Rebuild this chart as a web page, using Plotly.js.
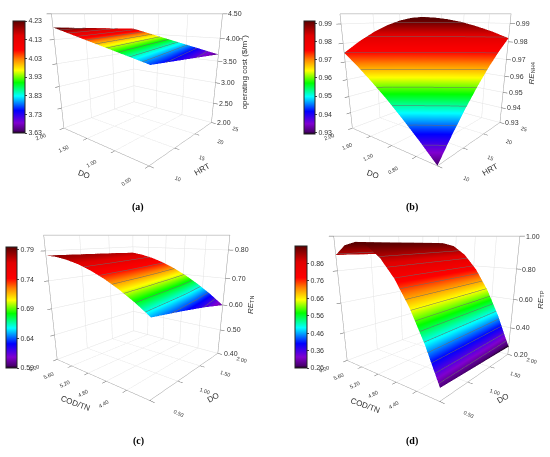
<!DOCTYPE html>
<html><head><meta charset="utf-8">
<script src="https://cdn.plot.ly/plotly-3.0.1.min.js"></script>
<style>html,body{margin:0;padding:0;background:#fff}#c{width:550px;height:457px}#log{position:absolute;left:200px;top:200px;font:10px sans-serif;color:#c00}</style>
</head><body><div id="c"></div><div id="log"></div><script>
// Panel (a): operating cost vs DO (rows) and HRT (cols)
const hrtA=[10,15,20,25];
const doA=[0.5,1.0,1.5,2.0];
const costA=[
 [3.770,3.730,3.690,3.650],
 [3.927,3.887,3.847,3.807],
 [4.083,4.043,4.003,3.963],
 [4.240,4.200,4.160,4.120]];
// Panel (b): RE_NH4 vs DO (rows) and HRT (cols)
const hrtB=[10,12.5,15,17.5,20,22.5,25];
const doB=[0.5,0.75,1.0,1.25,1.5,1.75,2.0];
const reNH4=[
 [0.9300,0.9412,0.9513,0.9605,0.9687,0.9758,0.9820],
 [0.9390,0.9493,0.9585,0.9667,0.9739,0.9801,0.9854],
 [0.9474,0.9567,0.9650,0.9723,0.9786,0.9838,0.9881],
 [0.9553,0.9636,0.9709,0.9773,0.9826,0.9869,0.9903],
 [0.9624,0.9698,0.9762,0.9816,0.9860,0.9894,0.9918],
 [0.9690,0.9755,0.9809,0.9854,0.9888,0.9913,0.9927],
 [0.9750,0.9805,0.9850,0.9885,0.9910,0.9925,0.9930]];
// Panels (c),(d): vs COD/TN (rows) and DO (cols)
const codC=[4.0,4.25,4.5,4.75,5.0,5.25,5.5,5.75,6.0];
const doC=[0.5,1.0,1.5,2.0];
const reTN=[
 [0.649,0.635,0.619,0.599],
 [0.681,0.668,0.654,0.636],
 [0.7085,0.697,0.6845,0.6685],
 [0.732,0.722,0.711,0.697],
 [0.751,0.7426,0.733,0.721],
 [0.766,0.759,0.751,0.741],
 [0.7765,0.771,0.7645,0.7565],
 [0.783,0.7788,0.774,0.768],
 [0.785,0.782,0.779,0.775]];
const reTP=[
 [0.279,0.272,0.266,0.259],
 [0.490,0.483,0.477,0.470],
 [0.663,0.656,0.650,0.643],
 [0.797,0.790,0.784,0.777],
 [0.893,0.886,0.880,0.873],
 [0.951,0.944,0.938,0.931],
 [0.970,0.963,0.957,0.950],
 [0.951,0.944,0.938,0.931],
 [0.893,0.886,0.880,0.873]];
// tick labels
const zTicksA=[2.0,2.5,3.0,3.5,4.0,4.5];
const zTicksB=[0.93,0.94,0.95,0.96,0.97,0.98,0.99];
const zTicksC=[0.4,0.5,0.6,0.7,0.8];
const zTicksD=[0.2,0.4,0.6,0.8,1.0];
const cbTicksA=[3.63,3.73,3.83,3.93,4.03,4.13,4.23];
const cbTicksB=[0.93,0.94,0.95,0.96,0.97,0.98,0.99];
const cbTicksC=[0.59,0.64,0.69,0.74,0.79];
const cbTicksD=[0.26,0.36,0.46,0.56,0.66,0.76,0.86];

const cs=[[0,'#1a001a'],[0.02,'#4a0070'],[0.09,'#8000d0'],[0.2,'#0000ff'],[0.33,'#00ffff'],
 [0.45,'#00ff00'],[0.56,'#ffff00'],[0.66,'#ff8000'],[0.74,'#ff0000'],[0.87,'#e00000'],[1,'#5a0000']];
const light={ambient:1,diffuse:0.08,specular:0,roughness:1,fresnel:0};
function surf(x,y,z,ca,lo,hi,step){
 return {type:'surface',x:x,y:y,z:z,coloraxis:ca,lighting:light,hoverinfo:'skip',
  contours:{z:{show:true,start:lo,end:hi,size:step,color:'#6a6a6a',width:1}}};
}
const data=[
 Object.assign(surf(hrtA,doA,costA,'coloraxis',3.65,4.25,0.05),{scene:'scene'}),
 Object.assign(surf(hrtB,doB,reNH4,'coloraxis2',0.9375,0.99,0.0075),{scene:'scene2'}),
 Object.assign(surf(doC,codC,reTN,'coloraxis3',0.60,0.78,0.02),{scene:'scene3'}),
 Object.assign(surf(doC,codC,reTP,'coloraxis4',0.30,0.95,0.05),{scene:'scene4'})
];
const FF='Liberation Sans, Arial, sans-serif';
const tf={family:FF,size:8,color:'#333'};
const cbf={family:FF,size:7,color:'#333'};
function ax(range,tickvals,fmt){
 return {title:{text:''},range:range,tickvals:tickvals,tickformat:fmt,tickfont:tf,showbackground:false,
  gridcolor:'#e2e2e2',showline:true,linecolor:'#999',linewidth:1,zeroline:false,mirror:true,
  ticks:'outside',ticklen:4,tickcolor:'#555',showspikes:false,autorange:false};
}
function zax(range,tickvals){
 return Object.assign(ax(range,tickvals,'.2f'),{showticklabels:false,mirror:'ticks'});
}
// scene annotations: z tick labels on the right vertical edge and axis titles
function zlab(xr,yr,vals,title,tz,xtitle,xpos,ytitle,ypos){
 const f7={family:FF,size:7,color:'#333'}, f8={family:FF,size:8,color:'#333'};
 const arr=vals.map(v=>({x:xr,y:yr,z:v,text:v.toFixed(2),xanchor:'left',xshift:4,showarrow:false,font:f7}));
 arr.push({x:xr,y:yr,z:tz,text:title,textangle:-90,xshift:27,showarrow:false,font:f8});
 arr.push({x:xpos[0],y:xpos[1],z:xpos[2],text:xtitle,textangle:-30,xshift:17,yshift:-29,showarrow:false,font:f8});
 arr.push({x:ypos[0],y:ypos[1],z:ypos[2],text:ytitle,textangle:20,xshift:-13,yshift:-31,showarrow:false,font:f8});
 return arr;
}
const cam={eye:{x:-1.75,y:-1.45,z:0.5},center:{x:0,y:0,z:-0.32},up:{x:0,y:0,z:1}};
function scene(dom,xa,ya,za,ann){
 return {domain:dom,xaxis:xa,yaxis:ya,zaxis:za,camera:cam,aspectmode:'manual',
  aspectratio:{x:1,y:1,z:1.0},bgcolor:'rgba(0,0,0,0)',annotations:ann};
}
function cbar(x,ytop,len,th,ticks,fmt){
 return {x:x,xanchor:'left',y:ytop,yanchor:'top',len:len,lenmode:'fraction',thickness:th,
  tickvals:ticks,tickformat:fmt,tickfont:cbf,ticks:'outside',ticklen:2,tickcolor:'#444',
  outlinewidth:1,outlinecolor:'#222',xpad:0,ypad:0};
}
const H=457,W=550;
const layout={
 width:W,height:H,margin:{l:0,r:0,t:0,b:0},paper_bgcolor:'#fff',showlegend:false,
 scene:scene({x:[0.043,0.463],y:[0.5295,1.0]},
   ax([10,25],[10,15,20,25],'d'),ax([0.5,2.0],[0.5,1.0,1.5,2.0],'.2f'),zax([2.0,4.5],zTicksA),
   zlab(25,0.5,zTicksA,'operating cost ($/m<sup>3</sup>)',3.25,'HRT',[17.5,0.5,2.0],'DO',[10,1.3,2.0])),
 scene2:scene({x:[0.567,0.988],y:[0.5295,1.0]},
   ax([10,25],[10,15,20,25],'d'),ax([0.5,2.0],[0.8,1.2,1.6,2.0],'.2f'),zax([0.93,0.995],zTicksB),
   zlab(25,0.5,zTicksB,'<i>RE</i><sub>NH4</sub>',0.962,'HRT',[17.5,0.5,0.93],'DO',[10,1.3,0.93])),
 scene3:scene({x:[0.026,0.483],y:[0.0074,0.519]},
   ax([0.5,2.0],[0.5,1.0,1.5,2.0],'.2f'),ax([4.0,6.0],[4.4,4.8,5.2,5.6,6.0],'.2f'),zax([0.40,0.85],zTicksC),
   zlab(2.0,4.0,zTicksC,'<i>RE</i><sub>TN</sub>',0.6,'DO',[1.4,4.0,0.4],'COD/TN',[0.5,5.2,0.4])),
 scene4:scene({x:[0.5636,0.998],y:[0.0044,0.516]},
   ax([0.5,2.0],[0.5,1.0,1.5,2.0],'.2f'),ax([4.0,6.0],[4.4,4.8,5.2,5.6,6.0],'.2f'),zax([0.20,1.0],zTicksD),
   zlab(2.0,4.0,zTicksD,'<i>RE</i><sub>TP</sub>',0.6,'DO',[1.4,4.0,0.2],'COD/TN',[0.5,5.2,0.2])),
 coloraxis:{colorscale:cs,cmin:3.63,cmax:4.23,colorbar:cbar(13/W,1-21/H,112/H,12,cbTicksA,'.2f')},
 coloraxis2:{colorscale:cs,cmin:0.929,cmax:0.9915,colorbar:cbar(304/W,1-21/H,113/H,11,cbTicksB,'.2f')},
 coloraxis3:{colorscale:cs,cmin:0.59,cmax:0.795,colorbar:cbar(6/W,1-247/H,121/H,11,cbTicksC,'.2f')},
 coloraxis4:{colorscale:cs,cmin:0.26,cmax:0.96,colorbar:cbar(295/W,1-246/H,122/H,12,cbTicksD,'.2f')},
 annotations:[
  {text:'<b>(a)</b>',x:138/W,y:1-207/H},{text:'<b>(b)</b>',x:412/W,y:1-207/H},
  {text:'<b>(c)</b>',x:138/W,y:1-441/H},{text:'<b>(d)</b>',x:412/W,y:1-441/H}
 ].map(a=>Object.assign(a,{xref:'paper',yref:'paper',showarrow:false,xanchor:'center',yanchor:'middle',
   font:{family:'Liberation Serif, serif',size:10,color:'#000'}}))
};
window.onerror=function(m){document.getElementById('log').textContent+=' onerr '+m;};
Plotly.newPlot('c',data,layout,{displayModeBar:false}).catch(e=>{document.getElementById('log').textContent+=' err '+e;});
</script></body></html>
